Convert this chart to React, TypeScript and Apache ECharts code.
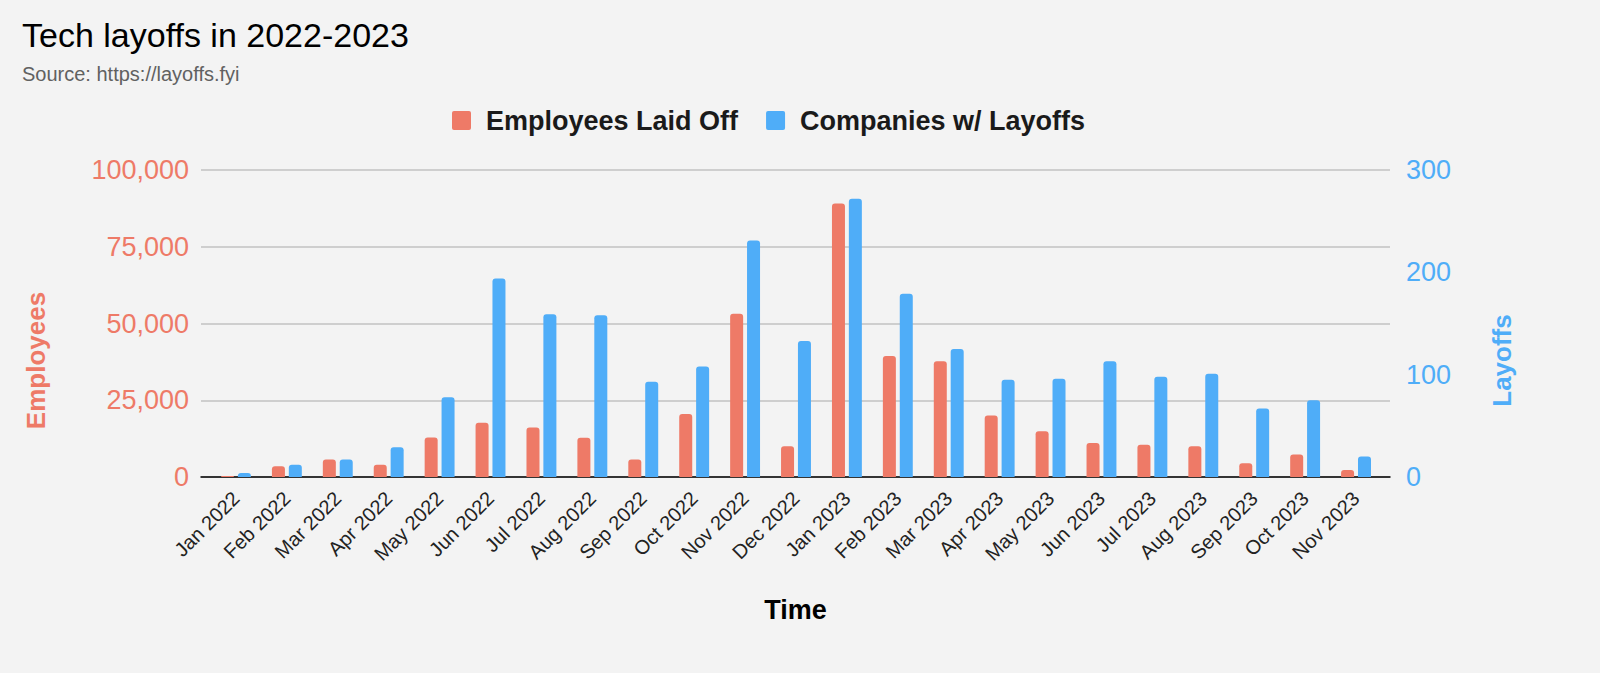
import React, { useEffect, useRef } from "react";
import * as echarts from "echarts";

const months: string[] = [
  "Jan 2022", "Feb 2022", "Mar 2022", "Apr 2022", "May 2022", "Jun 2022",
  "Jul 2022", "Aug 2022", "Sep 2022", "Oct 2022", "Nov 2022", "Dec 2022",
  "Jan 2023", "Feb 2023", "Mar 2023", "Apr 2023", "May 2023", "Jun 2023",
  "Jul 2023", "Aug 2023", "Sep 2023", "Oct 2023", "Nov 2023",
];

const employeesLaidOff: number[] = [
  300, 3500, 5700, 4000, 12900, 17700, 16100, 12800, 5700, 20500, 53200, 10000,
  89100, 39400, 37700, 20000, 14900, 11100, 10500, 10000, 4500, 7300, 2300,
];

const companiesWithLayoffs: number[] = [
  4, 12, 17, 29, 78, 194, 159, 158, 93, 108, 231, 133,
  272, 179, 125, 95, 96, 113, 98, 101, 67, 75, 20,
];

const leftTicks = { min: 0, max: 100000, interval: 25000 };
const rightTicks = { min: 0, max: 300, interval: 100 };

const RED = "#ee7a67";
const BLUE = "#4fadf8";
const FONT = "Liberation Sans, Arial, Helvetica, sans-serif";

export default function App() {
  const ref = useRef<HTMLDivElement>(null);

  useEffect(() => {
    document.body.style.margin = "0";
    if (!ref.current) return;
    const chart = echarts.init(ref.current, null, { renderer: "svg" });
    chart.setOption({
      animation: false,
      backgroundColor: "#f3f3f3",
      textStyle: { fontFamily: FONT },
      title: [
        {
          text: "Tech layoffs in 2022-2023",
          left: 17,
          top: 13,
          textStyle: { fontSize: 34, fontWeight: "normal", color: "#000", fontFamily: FONT },
        },
        {
          text: "Source: https://layoffs.fyi",
          left: 17,
          top: 59,
          textStyle: { fontSize: 20, fontWeight: "normal", color: "#616161", fontFamily: FONT },
        },
      ],
      legend: {
        left: 447,
        top: 102,
        itemWidth: 19,
        itemHeight: 19,
        itemGap: 28,
        icon: "path://M2,0 H17 Q19,0 19,2 V17 Q19,19 17,19 H2 Q0,19 0,17 V2 Q0,0 2,0 Z",
        textStyle: {
          fontSize: 27,
          fontWeight: "bold",
          color: "#1a1a1a",
          fontFamily: FONT,
          padding: [0, 0, 0, 10],
        },
        data: ["Employees Laid Off", "Companies w/ Layoffs"],
      },
      grid: [
        { left: 201, right: 210, top: 170, height: 307 },
        { left: 210.5, right: 218.5, top: 170, height: 307 },
      ],
      xAxis: [
        {
          gridIndex: 0,
          type: "category",
          data: months,
          name: "Time",
          nameLocation: "middle",
          nameGap: 119,
          nameTextStyle: { fontSize: 27, fontWeight: "bold", color: "#000", fontFamily: FONT },
          axisLine: { lineStyle: { color: "#000", width: 1.5 } },
          axisTick: { show: false },
          axisLabel: { show: false },
        },
        {
          gridIndex: 1,
          type: "category",
          data: months,
          axisLine: { show: false },
          axisTick: { show: false },
          axisLabel: {
            rotate: 45,
            fontSize: 20,
            color: "#222",
            margin: 18,
            interval: 0,
            fontFamily: FONT,
          },
        },
      ],
      yAxis: [
        {
          gridIndex: 0,
          type: "value",
          min: leftTicks.min,
          max: leftTicks.max,
          interval: leftTicks.interval,
          name: "Employees",
          nameLocation: "middle",
          nameRotate: 90,
          nameGap: 152,
          nameTextStyle: {
            fontSize: 26,
            fontWeight: "bold",
            color: RED,
            fontFamily: FONT,
            padding: [0, 74, 0, 0],
          },
          axisLine: { show: false },
          axisTick: { show: false },
          axisLabel: {
            fontSize: 27,
            color: RED,
            margin: 12,
            fontFamily: FONT,
            formatter: (v: number) => v.toLocaleString("en-US"),
          },
          splitLine: { lineStyle: { color: "#c2c2c2", width: 1.5 } },
        },
        {
          gridIndex: 0,
          type: "value",
          position: "right",
          min: rightTicks.min,
          max: rightTicks.max,
          interval: rightTicks.interval,
          name: "Layoffs",
          nameLocation: "middle",
          nameRotate: 90,
          nameGap: 99,
          nameTextStyle: {
            fontSize: 26,
            fontWeight: "bold",
            color: BLUE,
            fontFamily: FONT,
            padding: [0, 74, 0, 0],
          },
          axisLine: { show: false },
          axisTick: { show: false },
          axisLabel: { fontSize: 27, color: BLUE, margin: 16, fontFamily: FONT },
          splitLine: { show: false },
        },
        {
          gridIndex: 1,
          type: "value",
          min: leftTicks.min,
          max: leftTicks.max,
          show: false,
        },
        {
          gridIndex: 1,
          type: "value",
          position: "right",
          min: rightTicks.min,
          max: rightTicks.max,
          show: false,
        },
      ],
      series: [
        {
          name: "Employees Laid Off",
          type: "bar",
          xAxisIndex: 1,
          yAxisIndex: 2,
          data: employeesLaidOff,
          barWidth: 13,
          barGap: "30%",
          itemStyle: { color: RED, borderRadius: [3, 3, 0, 0] },
        },
        {
          name: "Companies w/ Layoffs",
          type: "bar",
          xAxisIndex: 1,
          yAxisIndex: 3,
          data: companiesWithLayoffs,
          barWidth: 13,
          barGap: "30%",
          itemStyle: { color: BLUE, borderRadius: [3, 3, 0, 0] },
        },
      ],
    });
    return () => chart.dispose();
  }, []);

  return <div ref={ref} style={{ width: 1600, height: 673 }} />;
}
